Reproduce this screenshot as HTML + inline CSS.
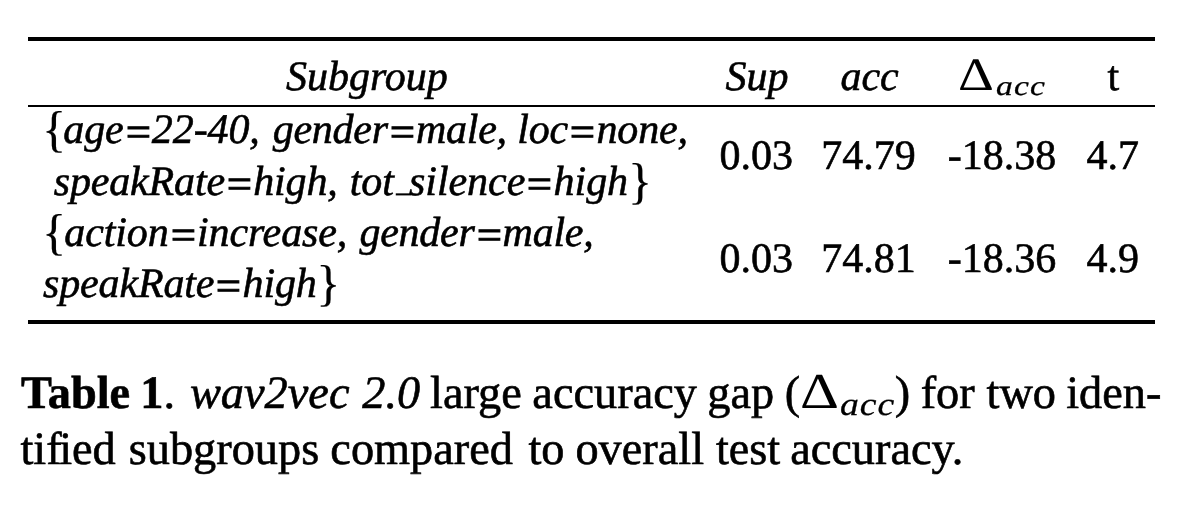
<!DOCTYPE html>
<html lang="en"><head><meta charset="utf-8"><title>Table 1</title>
<style>
html,body{margin:0;padding:0;background:#fff;}
body{width:1198px;height:510px;position:relative;overflow:hidden;font-family:"Liberation Serif","Times New Roman",Times,serif;color:#000;}
.t{position:absolute;white-space:pre;line-height:1;text-rendering:geometricPrecision;font-kerning:normal;-webkit-text-stroke:0.6px #000;}
.i{font-style:italic;}
.ns{-webkit-text-stroke:0;}
.br{-webkit-text-stroke:0.15px #000;}
.sub{-webkit-text-stroke:0.3px #000;}
.eq{display:inline-block;position:relative;top:0.08em;-webkit-text-stroke:1.1px #000;transform:translateX(0.015em) scaleX(1.06);transform-origin:100% 50%;}
.us{display:inline-block;width:0.36em;}
.us span{display:inline-block;-webkit-text-stroke:0;transform:translate(0.05em,-0.115em) scaleX(0.72);transform-origin:0 0;}
.fi{letter-spacing:-0.055em;}
.r{position:absolute;left:28px;width:1127px;background:#000;}
</style></head><body>
<div class="r" style="top:37px;height:4px"></div>
<div class="r" style="top:105px;height:2px"></div>
<div class="r" style="top:320px;height:4px"></div>
<div id="h1" class="t i" style="left:286.09px;top:56.00px;font-size:42.00px;">Subgroup</div>
<div id="h2" class="t i" style="left:725.61px;top:56.00px;font-size:42.00px;">Sup</div>
<div id="h3" class="t i" style="left:840.42px;top:56.00px;font-size:42.00px;">acc</div>
<div id="h4d" class="t ns" style="left:957.71px;top:53.00px;font-size:46.50px;transform:scaleX(1.2);transform-origin:0 0;">Δ</div>
<div id="h4s" class="t i sub" style="left:995.62px;top:71.50px;font-size:27.50px;letter-spacing:0.035em;transform:scaleX(1.22);transform-origin:0 0;">acc</div>
<div id="h5" class="t " style="left:1107.50px;top:56.00px;font-size:42.00px;">t</div>
<div id="b1" class="t br" style="left:41.89px;top:104.00px;font-size:50.40px;transform:scaleX(1.0);transform-origin:0 0;">{</div>
<div id="a1" class="t i" style="left:63.28px;top:109.00px;font-size:42.00px;letter-spacing:-0.1px;">age<span class="eq">=</span>22-40, </div>
<div id="a2" class="t i" style="left:272.72px;top:109.00px;font-size:42.00px;letter-spacing:-0.25px;">gender<span class="eq">=</span>male, </div>
<div id="a3" class="t i" style="left:517.20px;top:109.00px;font-size:42.00px;letter-spacing:-0.12px;">loc<span class="eq">=</span>none,</div>
<div id="a4" class="t i" style="left:53.72px;top:161.00px;font-size:42.00px;letter-spacing:-0.15px;">speakRate<span class="eq">=</span>high, </div>
<div id="a5" class="t i" style="left:349.70px;top:161.00px;font-size:42.00px;letter-spacing:-0.05px;">tot<span class="us"><span>_</span></span>silence<span class="eq">=</span>high</div>
<div id="b2" class="t br" style="left:628.04px;top:156.00px;font-size:50.40px;transform:scaleX(1.0);transform-origin:0 0;">}</div>
<div id="n00" class="t " style="left:719.39px;top:135.00px;font-size:42.00px;font-kerning:none;">0.03</div>
<div id="n01" class="t " style="left:821.15px;top:135.00px;font-size:42.00px;font-kerning:none;">74.79</div>
<div id="n02" class="t " style="left:947.86px;top:135.00px;font-size:42.00px;font-kerning:none;">-18.38</div>
<div id="n03" class="t " style="left:1086.43px;top:135.00px;font-size:42.00px;font-kerning:none;">4.7</div>
<div id="b3" class="t br" style="left:41.89px;top:207.00px;font-size:50.40px;transform:scaleX(1.0);transform-origin:0 0;">{</div>
<div id="a6" class="t i" style="left:64.28px;top:212.00px;font-size:42.00px;letter-spacing:-0.1px;">action<span class="eq">=</span>increase, </div>
<div id="a7" class="t i" style="left:359.38px;top:212.00px;font-size:42.00px;letter-spacing:-0.25px;">gender<span class="eq">=</span>male,</div>
<div id="a8" class="t i" style="left:43.09px;top:263.00px;font-size:42.00px;letter-spacing:-0.15px;">speakRate<span class="eq">=</span>high</div>
<div id="b4" class="t br" style="left:316.22px;top:258.00px;font-size:50.40px;transform:scaleX(1.0);transform-origin:0 0;">}</div>
<div id="n10" class="t " style="left:719.39px;top:238.00px;font-size:42.00px;font-kerning:none;">0.03</div>
<div id="n11" class="t " style="left:821.15px;top:238.00px;font-size:42.00px;font-kerning:none;">74.81</div>
<div id="n12" class="t " style="left:947.86px;top:238.00px;font-size:42.00px;font-kerning:none;">-18.36</div>
<div id="n13" class="t " style="left:1086.43px;top:238.00px;font-size:42.00px;font-kerning:none;">4.9</div>
<div id="c1" class="t " style="left:21.09px;top:371.00px;font-size:46.35px;"><b>Table </b></div>
<div id="c2" class="t " style="left:140.21px;top:371.00px;font-size:46.35px;"><b>1</b>. </div>
<div id="c3" class="t " style="left:189.94px;top:371.00px;font-size:46.35px;"><i>wav2vec </i></div>
<div id="c4" class="t " style="left:362.22px;top:371.00px;font-size:46.35px;"><i>2.0</i> </div>
<div id="c5" class="t " style="left:430.04px;top:371.00px;font-size:46.35px;">large </div>
<div id="c6" class="t " style="left:532.33px;top:371.00px;font-size:46.35px;">accuracy </div>
<div id="c7" class="t " style="left:707.23px;top:371.00px;font-size:46.35px;">gap </div>
<div id="c8" class="t " style="left:784.83px;top:371.00px;font-size:46.35px;">(</div>
<div id="c9d" class="t ns" style="left:800.16px;top:366.00px;font-size:50.50px;transform:scaleX(1.2);transform-origin:0 0;">Δ</div>
<div id="c9s" class="t i sub" style="left:840.18px;top:388.50px;font-size:32.50px;letter-spacing:0.025em;transform:scaleX(1.16);transform-origin:0 0;">acc</div>
<div id="c10" class="t " style="left:894.84px;top:371.00px;font-size:46.35px;">) </div>
<div id="c11" class="t " style="left:920.64px;top:371.00px;font-size:46.35px;">for </div>
<div id="c12" class="t " style="left:986.53px;top:371.00px;font-size:46.35px;">two </div>
<div id="c13" class="t " style="left:1066.20px;top:371.00px;font-size:46.35px;">iden-</div>
<div id="d1" class="t " style="left:20.47px;top:427.00px;font-size:46.35px;">ti<span class="fi">f</span>ied </div>
<div id="d2" class="t " style="left:128.68px;top:427.00px;font-size:46.35px;">subgroups </div>
<div id="d3" class="t " style="left:330.33px;top:427.00px;font-size:46.35px;">compared </div>
<div id="d4" class="t " style="left:528.47px;top:427.00px;font-size:46.35px;">to </div>
<div id="d5" class="t " style="left:575.41px;top:427.00px;font-size:46.35px;">overall </div>
<div id="d6" class="t " style="left:715.89px;top:427.00px;font-size:46.35px;">test </div>
<div id="d7" class="t " style="left:790.13px;top:427.00px;font-size:46.35px;">accuracy.</div>
</body></html>
